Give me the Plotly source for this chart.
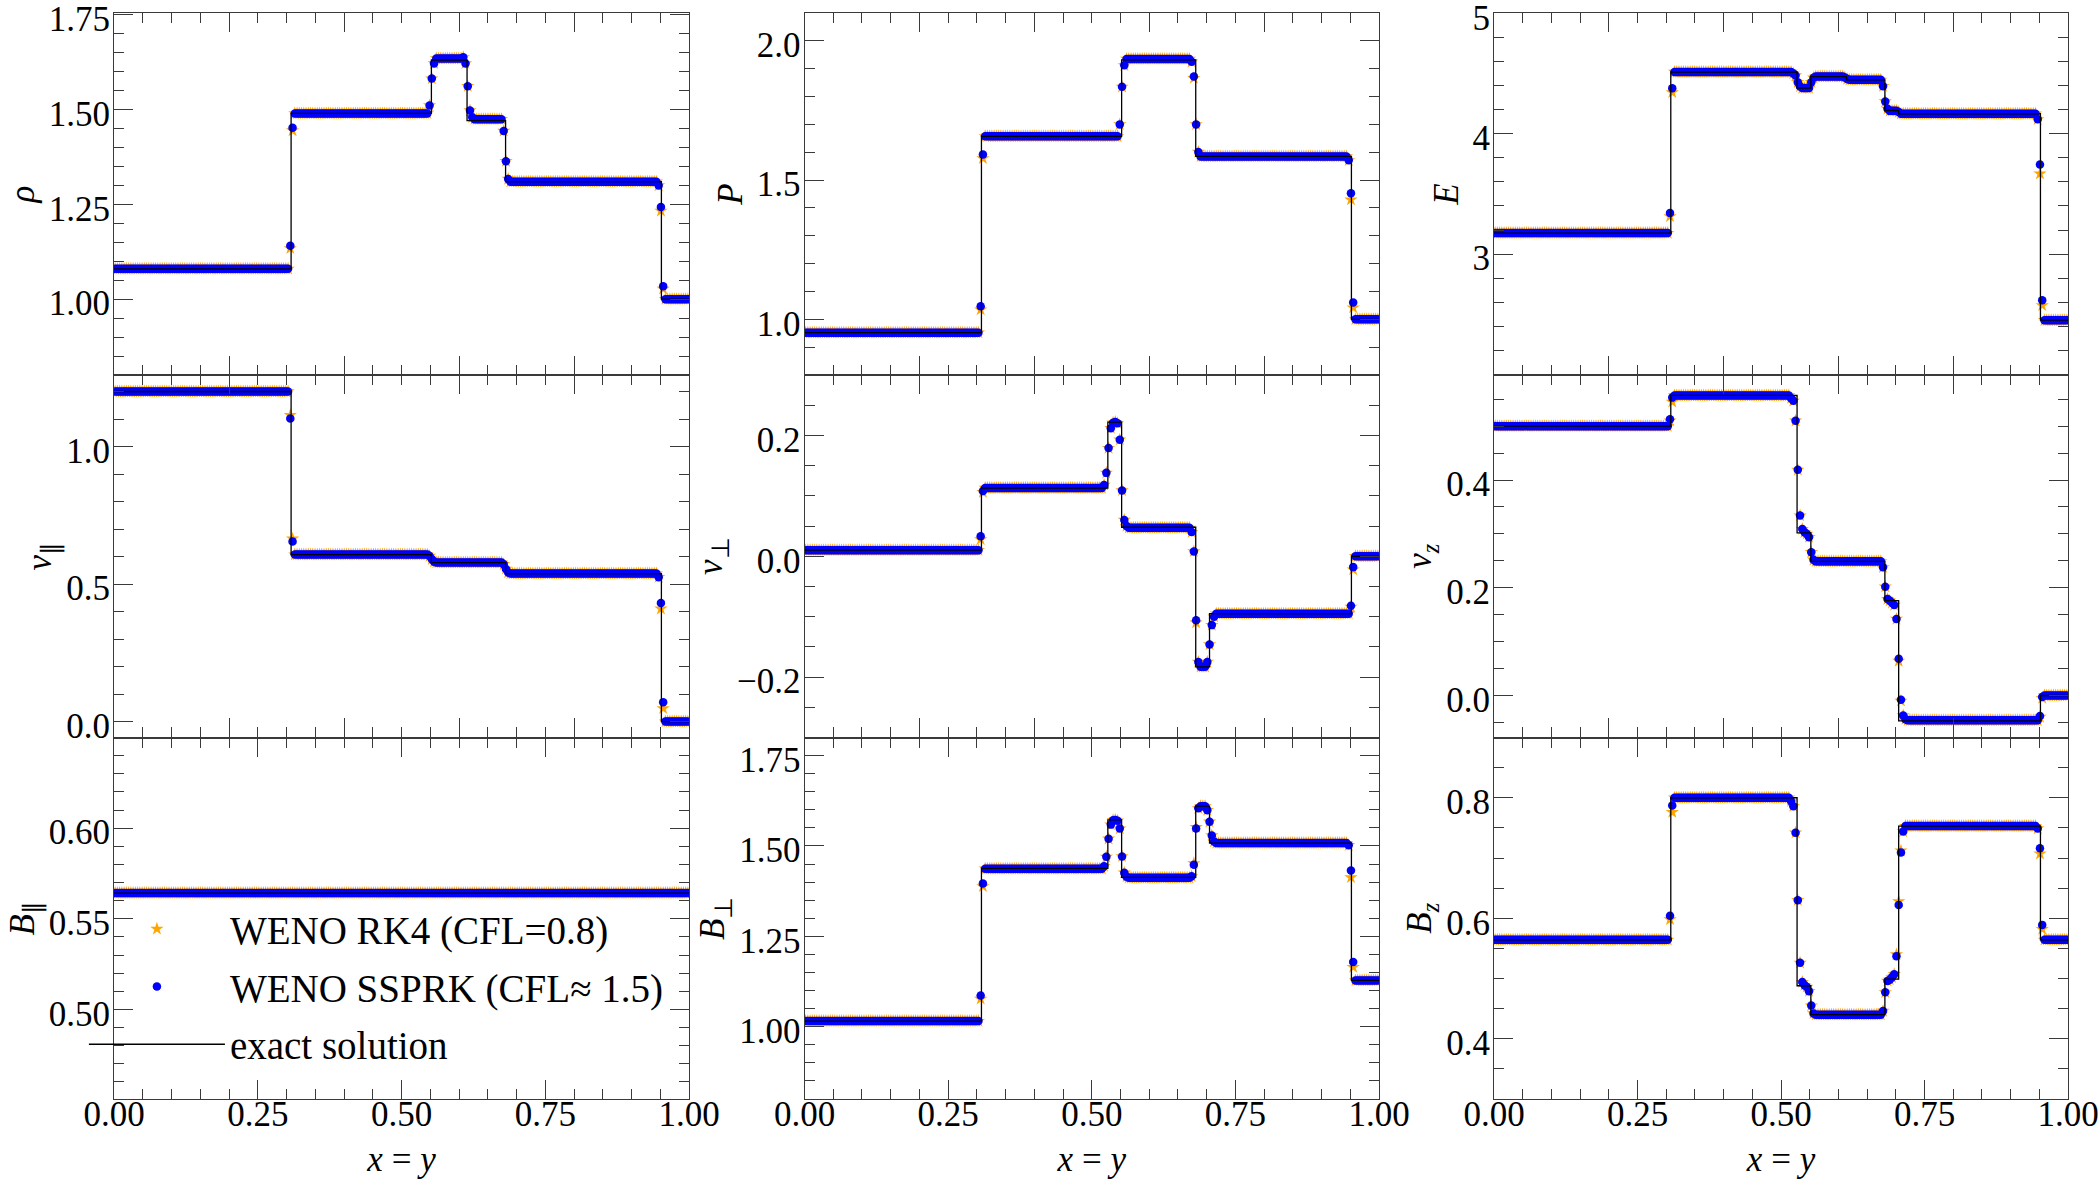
import numpy as np
import plotly.graph_objects as go
from plotly.subplots import make_subplots

# ---------------- data ----------------
N_CELLS = 256                       # cells along the diagonal x = y
wave_x = [0.308, 0.528, 0.552, 0.614, 0.681, 0.705, 0.952]   # wave positions

# exact states in the 8 regions separated by the waves
rho_exact = [1.08, 1.49, 1.49, 1.631, 1.471, 1.31, 1.31, 1.00]
p_exact = [0.952, 1.657, 1.657, 1.932, 1.932, 1.585, 1.585, 1.00]
e_exact = [3.175, 4.513, 4.38, 4.475, 4.448, 4.193, 4.166, 2.451]
vpar_exact = [1.20, 0.607, 0.607, 0.578, 0.578, 0.538, 0.538, 0.0]
vperp_exact = [0.01, 0.113, 0.222, 0.048, 0.048, -0.183, -0.095, 0.0]
vz_exact = [0.50, 0.557, 0.302, 0.249, 0.249, 0.176, -0.047, 0.0]
bpar_exact = [0.5642] * 8
bperp_exact = [1.0155, 1.438, 1.572, 1.413, 1.413, 1.610, 1.508, 1.128]
bz_exact = [0.5642, 0.800, 0.488, 0.440, 0.440, 0.499, 0.753, 0.5642]

# plateau levels of the numerical solutions
rho_num = [1.08, 1.49, 1.49, 1.635, 1.475, 1.31, 1.31, 1.00]
p_num = [0.952, 1.657, 1.657, 1.935, 1.935, 1.585, 1.585, 1.00]
e_num = [3.175, 4.513, 4.38, 4.475, 4.448, 4.19, 4.166, 2.451]
vpar_num = vpar_exact
vperp_num = [0.01, 0.113, 0.222, 0.047, 0.047, -0.183, -0.095, 0.0]
vz_num = [0.50, 0.557, 0.302, 0.249, 0.249, 0.176, -0.046, 0.0]
bpar_num = bpar_exact
bperp_num = [1.0155, 1.437, 1.572, 1.412, 1.412, 1.610, 1.508, 1.128]
bz_num = bz_exact

# cells that sit inside the shock transitions: (x of first cell, values)
rho_ssprk = [(0.3066, [1.141, 1.452]), (0.5488, [1.511, 1.582, 1.622]),
             (0.6074, [1.638, 1.622, 1.562, 1.498, 1.480]),
             (0.6777, [1.444, 1.364, 1.317]), (0.9473, [1.300, 1.243, 1.034])]
rho_rk4 = [(0.3066, [1.134, 1.445]), (0.5488, [1.511, 1.582, 1.622]),
           (0.6074, [1.638, 1.622, 1.562, 1.498, 1.480]),
           (0.6777, [1.444, 1.364, 1.317]), (0.9473, [1.300, 1.233, 1.027])]

p_ssprk = [(0.3066, [1.047, 1.592]), (0.5488, [1.700, 1.835, 1.912]),
           (0.6738, [1.925, 1.872, 1.700, 1.601]), (0.9473, [1.571, 1.453, 1.060])]
p_rk4 = [(0.3066, [1.035, 1.578]), (0.5488, [1.700, 1.835, 1.912]),
         (0.6738, [1.925, 1.866, 1.700, 1.601]), (0.9473, [1.571, 1.430, 1.042])]

e_ssprk = [(0.3066, [3.341, 4.378]), (0.5215, [4.500, 4.484, 4.428, 4.393]),
           (0.5527, [4.428, 4.465]), (0.6113, [4.468, 4.455]),
           (0.6777, [4.395, 4.268, 4.207]), (0.7051, [4.180]),
           (0.9473, [4.120, 3.745, 2.617])]
e_rk4 = [(0.3066, [3.314, 4.343]), (0.5215, [4.500, 4.484, 4.428, 4.393]),
         (0.5527, [4.428, 4.465]), (0.6113, [4.468, 4.455]),
         (0.6777, [4.395, 4.268, 4.207]), (0.7051, [4.180]),
         (0.9473, [4.120, 3.668, 2.575])]

vpar_ssprk = [(0.3066, [1.102, 0.655]), (0.5488, [0.602, 0.590, 0.581]),
              (0.6777, [0.572, 0.555, 0.542]), (0.9473, [0.525, 0.431, 0.070])]
vpar_rk4 = [(0.3066, [1.114, 0.665]), (0.5488, [0.602, 0.590, 0.581]),
            (0.6777, [0.572, 0.555, 0.542]), (0.9473, [0.525, 0.410, 0.048])]

vperp_ssprk = [(0.3066, [0.033, 0.108]),
               (0.5215, [0.118, 0.138, 0.179, 0.212, 0.221, 0.222, 0.220, 0.193, 0.109, 0.060, 0.050]),
               (0.6738, [0.040, 0.008, -0.106, -0.175, -0.183, -0.183, -0.183, -0.175, -0.146, -0.114, -0.100]),
               (0.9512, [-0.082, -0.018])]
vperp_rk4 = [(0.3066, [0.028, 0.106]),
             (0.5215, [0.118, 0.138, 0.179, 0.212, 0.221, 0.222, 0.220, 0.193, 0.109, 0.060, 0.050]),
             (0.6738, [0.040, 0.008, -0.110, -0.175, -0.183, -0.183, -0.183, -0.175, -0.146, -0.114, -0.100]),
             (0.9512, [-0.084, -0.022])]

vz_ssprk = [(0.3066, [0.513, 0.553]),
            (0.5176, [0.552, 0.547, 0.510, 0.419, 0.334, 0.309, 0.303, 0.300, 0.294, 0.266, 0.252]),
            (0.6777, [0.238, 0.202, 0.179, 0.176, 0.172, 0.168, 0.142, 0.068, -0.008, -0.037, -0.044]),
            (0.9512, [-0.038, -0.003])]
vz_rk4 = [(0.3066, [0.510, 0.545]),
          (0.5176, [0.552, 0.547, 0.510, 0.419, 0.334, 0.309, 0.303, 0.300, 0.294, 0.266, 0.252]),
          (0.6777, [0.238, 0.202, 0.179, 0.176, 0.172, 0.168, 0.142, 0.064, -0.010, -0.037, -0.044]),
          (0.9512, [-0.040, -0.005])]

bpar_ssprk = []
bpar_rk4 = []

bperp_ssprk = [(0.3066, [1.086, 1.396]),
               (0.5215, [1.444, 1.470, 1.520, 1.559, 1.571, 1.572, 1.570, 1.548, 1.471, 1.426, 1.415]),
               (0.6738, [1.416, 1.448, 1.548, 1.604, 1.610, 1.610, 1.610, 1.599, 1.567, 1.529, 1.512]),
               (0.9473, [1.502, 1.432, 1.179])]
bperp_rk4 = [(0.3066, [1.077, 1.388]),
             (0.5215, [1.444, 1.470, 1.520, 1.559, 1.571, 1.572, 1.570, 1.548, 1.471, 1.426, 1.415]),
             (0.6738, [1.416, 1.452, 1.552, 1.604, 1.610, 1.610, 1.610, 1.599, 1.567, 1.529, 1.512]),
             (0.9473, [1.502, 1.413, 1.165])]

bz_ssprk = [(0.3066, [0.604, 0.787]),
            (0.5176, [0.794, 0.786, 0.742, 0.630, 0.526, 0.494, 0.489, 0.486, 0.479, 0.455, 0.442]),
            (0.6777, [0.446, 0.477, 0.496, 0.498, 0.502, 0.507, 0.537, 0.622, 0.709, 0.744]),
            (0.9473, [0.749, 0.716, 0.589])]
bz_rk4 = [(0.3066, [0.598, 0.776]),
          (0.5176, [0.794, 0.786, 0.742, 0.630, 0.526, 0.494, 0.489, 0.486, 0.479, 0.455, 0.442]),
          (0.6777, [0.446, 0.477, 0.496, 0.498, 0.502, 0.507, 0.540, 0.628, 0.712, 0.744]),
          (0.9473, [0.749, 0.707, 0.582])]

# y-axis labels, ranges and ticks for each panel (row-major order)
panel_titles = ["<i>ρ</i>", "<i>P</i>", "<i>E</i>",
                "<i>v</i><sub>∥</sub>", "<i>v</i><sub>⊥</sub>", "<i>v<sub>z</sub></i>",
                "<i>B</i><sub>∥</sub>", "<i>B</i><sub>⊥</sub>", "<i>B<sub>z</sub></i>"]
panel_ranges = [[0.80, 1.755], [0.80, 2.10], [1.996, 5.003],
                [-0.058, 1.26], [-0.30, 0.30], [-0.078, 0.595],
                [0.4506, 0.650], [0.80, 1.80], [0.30, 0.90]]
panel_ticks = [[1.0, 1.25, 1.5, 1.75], [1.0, 1.5, 2.0], [3, 4, 5],
               [0.0, 0.5, 1.0], [-0.2, 0.0, 0.2], [0.0, 0.2, 0.4],
               [0.50, 0.55, 0.60], [1.0, 1.25, 1.5, 1.75], [0.4, 0.6, 0.8]]
panel_formats = [".2f", ".1f", "d", ".1f", ".1f", ".1f", ".2f", ".2f", ".1f"]
panel_minor = [0.05, 0.1, 0.2, 0.1, 0.05, 0.05, 0.01, 0.05, 0.05]

x_title = "<i>x</i> = <i>y</i>"
legend_names = ["WENO RK4 (CFL=0.8)", "WENO SSPRK (CFL≈ 1.5)", "exact solution"]

exact_sets = [rho_exact, p_exact, e_exact, vpar_exact, vperp_exact, vz_exact,
              bpar_exact, bperp_exact, bz_exact]
num_sets = [rho_num, p_num, e_num, vpar_num, vperp_num, vz_num,
            bpar_num, bperp_num, bz_num]
ssprk_sets = [rho_ssprk, p_ssprk, e_ssprk, vpar_ssprk, vperp_ssprk, vz_ssprk,
              bpar_ssprk, bperp_ssprk, bz_ssprk]
rk4_sets = [rho_rk4, p_rk4, e_rk4, vpar_rk4, vperp_rk4, vz_rk4,
            bpar_rk4, bperp_rk4, bz_rk4]


def numerical(states, transitions):
    xs = (np.arange(N_CELLS) + 0.5) / N_CELLS
    ys = np.array(states, dtype=float)[np.searchsorted(wave_x, xs)]
    for x0, vals in transitions:
        i0 = int(round(x0 * N_CELLS - 0.5))
        ys[i0:i0 + len(vals)] = vals
    return xs, ys


# ---------------- figure ----------------
W, H = 2100, 1179
ML, MR, MT, MB = 114, 32, 13, 80
fig = make_subplots(rows=3, cols=3)

FONT = "Liberation Serif, Times New Roman, serif"
AX = "#3a3a3a"

for k in range(9):
    r, c = k // 3 + 1, k % 3 + 1
    show = (k == 0)
    xr, yr = numerical(num_sets[k], rk4_sets[k])
    xs, ys = numerical(num_sets[k], ssprk_sets[k])
    fig.add_trace(go.Scatter(x=xr, y=yr, mode="markers", name=legend_names[0],
                             legendgroup="rk4", showlegend=show,
                             marker=dict(symbol="star", size=10, color="#ffa500",
                                         line=dict(width=0))), row=r, col=c)
    fig.add_trace(go.Scatter(x=xs, y=ys, mode="markers", name=legend_names[1],
                             legendgroup="ssp", showlegend=show,
                             marker=dict(symbol="circle", size=8.5, color="#0000ff",
                                         line=dict(width=0))), row=r, col=c)
    ex_x = [0.0] + wave_x + [1.0]
    ex_y = list(exact_sets[k]) + [exact_sets[k][-1]]
    fig.add_trace(go.Scatter(x=ex_x, y=ex_y, mode="lines", name=legend_names[2],
                             legendgroup="exact", showlegend=show,
                             line=dict(color="black", width=1.3, shape="hv")),
                  row=r, col=c)

# domains in pixels
col_px = [(114, 689), (804.5, 1379), (1494, 2068)]
row_px = [(13, 375), (375, 737.5), (737.5, 1099)]
PW = W - ML - MR
PH = H - MT - MB

common = dict(showline=True, linecolor=AX, linewidth=1.2, mirror="allticks",
              ticks="inside", ticklen=19, tickwidth=1.1, tickcolor=AX,
              showgrid=False, zeroline=False, ticklabeloverflow="allow",
              tickfont=dict(family=FONT, size=35, color="black"))

for k in range(9):
    r, c = k // 3, k % 3
    xa = "xaxis" if k == 0 else f"xaxis{k + 1}"
    ya = "yaxis" if k == 0 else f"yaxis{k + 1}"
    x0, x1 = col_px[c]
    y0, y1 = row_px[r]
    bottom = (r == 2)
    xopts = dict(
        domain=[(x0 - ML) / PW, (x1 - ML) / PW], range=[0, 1], autorange=False,
        tickmode="linear", tick0=0, dtick=0.25 if bottom else 0.2,
        showticklabels=bottom, tickformat=".2f", ticklabelstandoff=-16,
        minor=dict(ticks="inside", ticklen=10, tickwidth=1, tickcolor=AX,
                   tickmode="linear", tick0=0, dtick=0.05, showgrid=False),
        automargin=False, **common)
    if bottom:
        xopts["title"] = dict(text=x_title, standoff=24,
                              font=dict(family=FONT, size=35, color="black"))
    fig.layout[xa].update(**xopts)
    fig.layout[ya].update(
        domain=[(H - MB - y1) / PH, (H - MB - y0) / PH],
        range=panel_ranges[k], autorange=False,
        tickmode="array", tickvals=panel_ticks[k], tickformat=panel_formats[k],
        ticklabelstandoff=-4, ticklabelshift=4,
        minor=dict(ticks="inside", ticklen=10, tickwidth=1, tickcolor=AX,
                   tickmode="linear", tick0=0, dtick=panel_minor[k], showgrid=False),
        title=dict(text=panel_titles[k], standoff=3,
                   font=dict(family=FONT, size=35, color="black")),
        automargin=False, **common)

fig.update_layout(
    width=W, height=H, margin=dict(l=ML, r=MR, t=MT, b=MB),
    paper_bgcolor="white", plot_bgcolor="white",
    font=dict(family=FONT, size=35, color="black"),
    legend=dict(x=-0.0154, y=0.186, xanchor="left", yanchor="top",
                bgcolor="rgba(0,0,0,0)", borderwidth=0, itemwidth=136,
                traceorder="grouped", tracegroupgap=4,
                font=dict(family=FONT, size=39, color="black")),
)

fig.write_html("out.html")
